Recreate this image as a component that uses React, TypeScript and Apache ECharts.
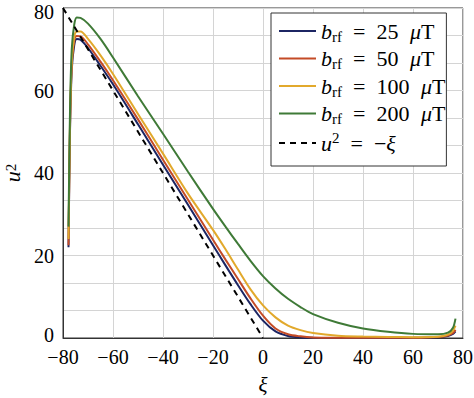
import React, { useEffect, useRef } from 'react';
import * as echarts from 'echarts';

// ξ sample positions
const xi = [-77.8, -77.2, -76.5, -75.5, -74.5, -73, -70, -65, -60, -50, -40, -30, -20, -15, -10, -5, 0, 5, 10, 15, 20, 30, 40, 50, 60, 70, 74, 76, 77];
// u^2 for each b_rf
const u25 = [22, 50, 65, 71, 72.5, 72.3, 70.3, 66, 61.5, 51.8, 42, 32.3, 22.5, 17.6, 12.8, 8.2, 4.2, 1.6, 0.5, 0.15, 0.05, 0.02, 0.02, 0.02, 0.05, 0.2, 0.5, 1.0, 1.6];
const u50 = [22.5, 51, 66, 72, 73.2, 73.1, 71.2, 67, 62.5, 53, 43.2, 33.5, 23.8, 19, 14.3, 9.6, 5.4, 2.3, 0.9, 0.4, 0.15, 0.06, 0.04, 0.04, 0.06, 0.25, 0.6, 1.2, 2.0];
const u100 = [24, 52, 67, 73, 74.3, 74.3, 72.5, 68.5, 64, 54.3, 44.7, 35, 26.2, 21.5, 16.6, 11.8, 7.9, 5.0, 3.0, 1.9, 1.2, 0.55, 0.35, 0.25, 0.2, 0.3, 0.8, 1.8, 3.0];
const u200 = [27, 55, 70, 76, 77.7, 77.6, 76.2, 72.5, 68, 58.6, 49.5, 40.3, 31.3, 27, 22.8, 18.7, 15, 12, 9.5, 7.5, 5.8, 3.7, 2.3, 1.5, 1.0, 0.9, 1.3, 2.5, 4.7];
// asymptote u^2 = -ξ
const asymXi = [-80, 0];
const asymU = [80, 0];

const seriesNames = ['b25', 'b50', 'b100', 'b200', 'asym'];
const seriesValues = [u25, u50, u100, u200];
const legendLabels: Record<string, string> = {
  b25: '{i|b}{s|rf}{e|=}{n|25}{g| }{i|μ}{n|T}',
  b50: '{i|b}{s|rf}{e|=}{n|50}{g| }{i|μ}{n|T}',
  b100: '{i|b}{s|rf}{e|=}{n|100}{g| }{i|μ}{n|T}',
  b200: '{i|b}{s|rf}{e|=}{n|200}{g| }{i|μ}{n|T}',
  asym: '{i|u}{p|2}{e|=}{n|−}{i|ξ}',
};
const colors = ['#1c2563', '#c44b26', '#e2a92c', '#3f7a37'];

const FONT = 'Liberation Serif';

const fmtX = (v: number) => (v < 0 ? '\u2212' + Math.abs(v) : String(v));
const fmtY = (v: number) => (v === 0 ? '{z|0}' : v === 80 ? '{t|80}' : String(v));

export default function App() {
  const ref = useRef<HTMLDivElement>(null);
  useEffect(() => {
    if (!ref.current) return;
    const chart = echarts.init(ref.current, undefined, { renderer: 'svg' });
    const LF = 22;
    const rich = {
      i: { fontFamily: FONT, fontSize: LF, fontStyle: 'italic', color: '#000', lineHeight: 26 },
      n: { fontFamily: FONT, fontSize: LF, color: '#000', lineHeight: 26 },
      g: { fontFamily: FONT, fontSize: LF, color: '#000', lineHeight: 26, padding: [0, 3, 0, 3] },
      e: { fontFamily: FONT, fontSize: LF, color: '#000', lineHeight: 26, padding: [0, 11, 0, 11] },
      s: { fontFamily: FONT, fontSize: 15, color: '#000', lineHeight: 15, verticalAlign: 'bottom' },
      p: { fontFamily: FONT, fontSize: 15, color: '#000', lineHeight: 15, verticalAlign: 'top' },
    };
    const axisRich = {
      i: { fontFamily: FONT, fontSize: 22, fontStyle: 'italic', color: '#000', lineHeight: 18 },
      p: { fontFamily: FONT, fontSize: 15, color: '#000', lineHeight: 14, verticalAlign: 'top' },
    };
    const xNameRich = {
      i: { fontFamily: FONT, fontSize: 21, fontStyle: 'italic', color: '#000', lineHeight: 18 },
    };
    const series: any[] = seriesValues.map((vals, k) => ({
      name: seriesNames[k],
      type: 'line',
      data: xi.map((x, j) => [x, vals[j]]),
      symbol: 'none',
      smooth: 0.3,
      lineStyle: { color: colors[k], width: 2 },
      itemStyle: { color: colors[k] },
      z: 3 + k,
    }));
    series.push({
      name: 'asym',
      type: 'line',
      data: asymXi.map((x, j) => [x, asymU[j]]),
      symbol: 'none',
      lineStyle: { color: '#000', width: 2, type: [6, 5] },
      itemStyle: { color: '#000' },
      z: 10,
    });
    chart.setOption({
      animation: false,
      backgroundColor: '#fff',
      textStyle: { fontFamily: FONT },
      grid: {
        left: 63, right: 11, top: 8, bottom: 60,
        outerBoundsMode: 'none', containLabel: false,
        show: true, borderColor: '#333', borderWidth: 1, backgroundColor: 'transparent',
      },
      xAxis: {
        type: 'value', min: -80, max: 80, interval: 20,
        name: '{i|ξ}', nameLocation: 'middle', nameGap: 38,
        nameTextStyle: { rich: xNameRich },
        axisLine: { show: true, onZero: false, lineStyle: { color: '#333', width: 1 } },
        axisTick: { show: false },
        axisLabel: { formatter: fmtX, fontFamily: FONT, fontSize: 20, color: '#000', margin: 12, lineHeight: 14 },
        splitLine: { show: true, lineStyle: { color: '#d4d4d4', width: 1 } },
      },
      yAxis: {
        type: 'value', min: 0, max: 80, interval: 20,
        name: '{i|u}{p|2}', nameLocation: 'middle', nameGap: 42, nameRotate: 90,
        nameTextStyle: { rich: axisRich },
        axisLine: { show: true, onZero: false, lineStyle: { color: '#333', width: 1 } },
        axisTick: { show: false },
        axisLabel: {
          formatter: fmtY, fontFamily: FONT, fontSize: 20, color: '#000', margin: 9,
          rich: {
            z: { fontFamily: FONT, fontSize: 20, color: '#000', padding: [0, 0, 6, 0] },
            t: { fontFamily: FONT, fontSize: 20, color: '#000', padding: [7, 0, 0, 0] },
          },
        },
        splitLine: { show: true, lineStyle: { color: '#d4d4d4', width: 1 } },
        minorTick: { show: false, splitNumber: 3 },
        minorSplitLine: { show: true, lineStyle: { color: '#d4d4d4', width: 1 } },
      },
      legend: {
        orient: 'vertical', left: 271, top: 13,
        padding: [7, 1, 12, 7],
        itemWidth: 37, itemHeight: 14, itemGap: 3.5,
        backgroundColor: '#fff', borderColor: '#333', borderWidth: 1,
        itemStyle: { color: 'rgba(0,0,0,0)', borderColor: 'rgba(0,0,0,0)', borderWidth: 0 },
        data: seriesNames,
        formatter: (name: string) => legendLabels[name],
        textStyle: { fontFamily: FONT, fontSize: LF, color: '#000', rich },
      },
      series,
    });
    return () => chart.dispose();
  }, []);
  return <div ref={ref} style={{ position: 'fixed', left: 0, top: 0, width: 474, height: 398 }} />;
}
